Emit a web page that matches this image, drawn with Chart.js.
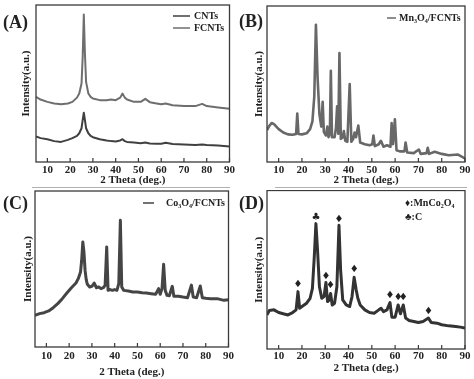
<!DOCTYPE html>
<html>
<head>
<meta charset="utf-8">
<script src="https://cdn.jsdelivr.net/npm/chart.js@4.4.1/dist/chart.umd.min.js"></script>
<style>
  body { margin: 0; background: #fff; }
  #wrap { position: relative; width: 474px; height: 379px; background: #fff; overflow: hidden; }
  canvas { position: absolute; }
  .tag { position: absolute; font: bold 18px "Liberation Serif", serif; color: #222; line-height: 18px; }
</style>
</head>
<body>
<div id="wrap">
  <canvas id="cA" width="237" height="190" style="left:0;top:0"></canvas>
  <canvas id="cB" width="237" height="190" style="left:237px;top:0"></canvas>
  <canvas id="cC" width="237" height="189" style="left:0;top:190px"></canvas>
  <canvas id="cD" width="237" height="189" style="left:237px;top:190px"></canvas>
  <div class="tag" style="left:3px;top:13px">(A)</div>
  <div class="tag" style="left:239px;top:12px">(B)</div>
  <div class="tag" style="left:3px;top:194px">(C)</div>
  <div class="tag" style="left:239px;top:194px">(D)</div>
</div>
<script>
// x tick labels (2 theta, deg.)
const thetaTicks = [10, 20, 30, 40, 50, 60, 70, 80, 90];

// (A) CNTs / FCNTs
const aTheta = [5,7,10,13,16,19,21,23,24,25,25.5,26,26.5,27,28,29,30,33,36,38,40,42,43,44,45,48,51,53,55,58,60,62,65,70,75,78,80,85,90];
const aCNTs = [16.2,15.2,14.5,13.3,12.8,14.1,15.2,16.6,18.3,21.5,26.7,31.4,26.7,21.5,18.3,16.6,15.8,14.5,13.7,13.3,13.1,13.7,14.5,13.3,12.8,12.4,12,12.4,11.8,11.6,11.6,12.2,11.4,11.2,10.9,11.2,10.9,10.5,9.9];
const aFCNTs = [41.5,39.8,38.3,37.3,36.8,37.3,38.3,41,43.6,50,66.7,94,68.8,51,43.6,41.5,40.4,39.4,39.4,39.8,39.4,41,43.6,41,39.8,38.3,38.3,40.2,38.1,37.3,36.8,37.3,36.2,35.6,35.6,37,35.6,34.7,33.9];

// (B) Mn3O4/FCNTs
const bTheta = [5,6,7,8,9,10,12,14,16,17.5,18,18.5,20,22,23.5,24.5,25.3,26,26.7,27.5,28.3,28.9,29.4,30.3,30.9,31.4,32,32.4,32.9,34,34.6,35.1,35.6,36.1,36.7,37.5,38,38.6,39.5,40.5,41.2,42,42.6,43.2,44.2,45,47,49,50.2,50.7,51.3,53,53.9,55,56.5,58,58.5,59.1,59.9,60.6,62,64,64.5,65.2,68,70.2,71,73.5,74,74.6,77,80,83,87,90];
const bMn3O4 = [20.5,23.2,25,24.3,22.7,21.1,18.9,17.7,17.5,18,31.1,18,17.7,18.4,21.1,26.1,42,88,54.5,30.7,22.7,38.6,19.3,17,22.7,15.9,18.2,58.4,15.9,15.9,21.6,35.7,18.2,69.8,14.8,15.9,19.8,13.6,13,50,13,14.8,18.9,15.9,23.4,12.5,11.4,10.7,11.4,17,10.2,11.4,13.6,9.8,10.7,9.8,25,11.4,27.3,7.5,6.8,6.8,12.5,6.1,5.7,8,5.2,5.7,9.1,5.2,6.6,5.2,4.3,4.8,2.3];

// (C) Co3O4/FCNTs
const cTheta = [5,7,9,11,13,15,17,19,21,23,24,25,25.5,26,26.5,27,27.5,28,29,30,31,32,33,34,35,35.8,36.5,37.1,38,39,40,41,41.8,42.5,43.1,44,46,48,50,52,54,56,58,59.3,60,60.8,61.5,62.2,63,64,65.3,66,68,70,72,73.7,74.5,76,77.6,78.5,80,82,85,88,90];
const cCo3O4 = [20.3,21.4,22,23.1,25.2,27.8,31,34.6,38,41,43.8,48.1,55.6,67.3,60.9,49.1,43.2,40.2,38.5,38.9,41,38,38.5,37.4,38,39.5,64.1,36.3,36.8,36.3,36.8,36.3,40.6,81.2,38.5,36.3,35.9,35.3,35.3,34.8,34.6,34.2,33.8,37.4,33.8,37.4,53,36.3,33.1,32.9,38.9,32.5,32.5,32,31.6,39.7,32,31.6,39.1,31.6,31.2,31,31,29.9,30.3];

// (D) MnCo2O4/FCNTs
const dTheta = [5,6,8,10,12,14,16,17.5,18.3,19,20,22,23.5,24.5,25.3,26,26.7,27.5,28.5,29.5,30.3,31,31.7,32.3,33,34,35,35.9,36.6,37.5,39,40.5,41.5,42.4,43.3,44,45,47,49,51,53,54,55,56.5,57.8,58.6,60,61.3,62.3,63.5,64.5,66,68,70,72,74.3,75.5,78,80,83,86,88,90];
const dMnCo2O4 = [21.5,24.3,24.7,23,22.2,21.5,23,24.7,36.2,25.7,26.8,28.9,32,38.3,58.2,79.1,62.3,39.3,32,33.1,42,29.9,31,35,27.8,28.9,39.3,78,49.8,31,27.8,26.8,33.1,45.2,37.2,32,27.8,24.7,23,22.6,24.7,25.7,23.6,24.7,29.3,20.1,20.1,27.8,22.2,27.8,19.5,18,17.4,16.7,17.4,19.5,16.7,16.3,15.3,14.6,14.2,13.8,13.2];
// phase marks above the peaks in (D)
const dSpinelTheta = [18.3, 30.3, 32.3, 35.9, 42.4, 57.8, 61.3, 63.5, 74.3];
const dSpinelY = [41, 46, 40, 82, 50, 34, 32.5, 32.5, 24];
const dCarbonTheta = [26];
const dCarbonY = [83];

const ink = '#222';
const serif = '"Liberation Serif", "Times New Roman", serif';

function pts(xs, ys) {
  return xs.map((x, i) => ({ x: x, y: ys[i] }));
}

// frame around the plot and inward x ticks
const framePlugin = {
  id: 'frame',
  afterDraw(chart) {
    const ctx = chart.ctx, a = chart.chartArea, xs = chart.scales.x;
    ctx.save();
    ctx.strokeStyle = '#3a3a3a';
    ctx.lineWidth = 1.3;
    ctx.strokeRect(a.left, a.top, a.right - a.left, a.bottom - a.top);
    ctx.lineWidth = 1.2;
    ctx.beginPath();
    thetaTicks.forEach(v => {
      const px = xs.getPixelForValue(v);
      ctx.moveTo(px, a.bottom);
      ctx.lineTo(px, a.bottom - 4);
    });
    ctx.stroke();
    ctx.restore();
  }
};

// legends, marks and the grey rule under the axis title
const decorPlugin = {
  id: 'decor',
  afterDraw(chart, args, opts) {
    const ctx = chart.ctx;
    ctx.save();
    ctx.font = 'bold 10px ' + serif;
    ctx.textBaseline = 'middle';
    (opts.legend || []).forEach(it => {
      if (it.color) {
        ctx.strokeStyle = it.color;
        ctx.lineWidth = 1.5;
        ctx.beginPath();
        ctx.moveTo(it.x0, it.y);
        ctx.lineTo(it.x1, it.y);
        ctx.stroke();
      }
      ctx.fillStyle = ink;
      ctx.fillText(it.text, it.tx, it.y);
    });
    if (opts.marks) {
      const xs = chart.scales.x, ys = chart.scales.y;
      ctx.font = '10px "DejaVu Sans", sans-serif';
      ctx.textAlign = 'center';
      ctx.fillStyle = '#222';
      opts.marks.forEach(m => {
        m.xs.forEach((v, i) => {
          ctx.fillText(m.glyph, xs.getPixelForValue(v), ys.getPixelForValue(m.ys[i]));
        });
      });
    }
    if (opts.rule) {
      ctx.strokeStyle = '#b0b0b0';
      ctx.lineWidth = 1;
      ctx.beginPath();
      ctx.moveTo(opts.rule.x0, opts.rule.y);
      ctx.lineTo(opts.rule.x1, opts.rule.y);
      ctx.stroke();
    }
    ctx.restore();
  }
};

function makePanel(id, datasets, lay, decor) {
  return new Chart(document.getElementById(id), {
    type: 'line',
    data: { datasets: datasets },
    options: {
      responsive: false,
      animation: false,
      events: [],
      layout: { padding: lay.pad },
      plugins: { legend: { display: false }, tooltip: { enabled: false }, decor: decor },
      elements: { point: { radius: 0 }, line: { tension: 0, borderJoinStyle: 'round' } },
      scales: {
        x: {
          type: 'linear', min: 5, max: 90,
          grid: { display: false, drawTicks: false },
          border: { display: false },
          afterBuildTicks: s => { s.ticks = thetaTicks.map(v => ({ value: v })); },
          afterFit: s => { s.height = lay.xh; },
          ticks: { color: ink, padding: lay.tp, maxRotation: 0, autoSkip: false, font: { family: serif, size: 11, weight: 'bold' } },
          title: { display: true, text: '2 Theta (deg.)', color: ink, padding: 0, font: { family: serif, size: 11, weight: 'bold' } }
        },
        y: {
          min: 0, max: 100,
          grid: { display: false, drawTicks: false },
          border: { display: false },
          ticks: { display: false },
          afterFit: s => { s.width = lay.yw; },
          title: { display: true, text: 'Intensity(a.u.)', color: ink, padding: 0, font: { family: serif, size: 11, weight: 'bold' } }
        }
      }
    },
    plugins: [framePlugin, decorPlugin]
  });
}

makePanel('cA', [
  { label: 'CNTs', data: pts(aTheta, aCNTs), borderColor: '#404040', borderWidth: 2 },
  { label: 'FCNTs', data: pts(aTheta, aFCNTs), borderColor: '#6e6e6e', borderWidth: 2 }
], { pad: { left: 20, right: 6, top: 5, bottom: 3 }, yw: 16, xh: 25, tp: 2 }, {
  legend: [
    { x0: 173, x1: 190, y: 16, tx: 194, text: 'CNTs', color: '#404040' },
    { x0: 173, x1: 190, y: 28, tx: 194, text: 'FCNTs', color: '#6e6e6e' }
  ],
  rule: { x0: 32, x1: 230, y: 187.5 }
});

makePanel('cB', [
  { label: 'Mn₃O₄/FCNTs', data: pts(bTheta, bMn3O4), borderColor: '#686868', borderWidth: 2.6 }
], { pad: { left: 15.4, right: 9, top: 6, bottom: 3 }, yw: 14.6, xh: 25, tp: 2 }, {
  legend: [{ x0: 150, x1: 159, y: 18, tx: 162, text: 'Mn₃O₄/FCNTs', color: '#686868' }],
  rule: { x0: 38, x1: 230, y: 187.5 }
});

makePanel('cC', [
  { label: 'Co₃O₄/FCNTs', data: pts(cTheta, cCo3O4), borderColor: '#454545', borderWidth: 3 }
], { pad: { left: 21.4, right: 6, top: 1, bottom: 0.4 }, yw: 13.6, xh: 31.6, tp: 3 }, {
  legend: [{ x0: 143, x1: 154, y: 13, tx: 166, text: 'Co₃O₄/FCNTs', color: '#454545' }]
});

makePanel('cD', [
  { label: 'MnCo₂O₄/FCNTs', data: pts(dTheta, dMnCo2O4), borderColor: '#333333', borderWidth: 3 }
], { pad: { left: 15.4, right: 9, top: 0.5, bottom: 4.4 }, yw: 14.6, xh: 25.6, tp: 1 }, {
  legend: [
    { y: 13, tx: 168, text: '♦:MnCo₂O₄' },
    { y: 27, tx: 168, text: '♣:C' }
  ],
  marks: [
    { glyph: '♦', xs: dSpinelTheta, ys: dSpinelY },
    { glyph: '♣', xs: dCarbonTheta, ys: dCarbonY }
  ]
});
</script>
</body>
</html>
